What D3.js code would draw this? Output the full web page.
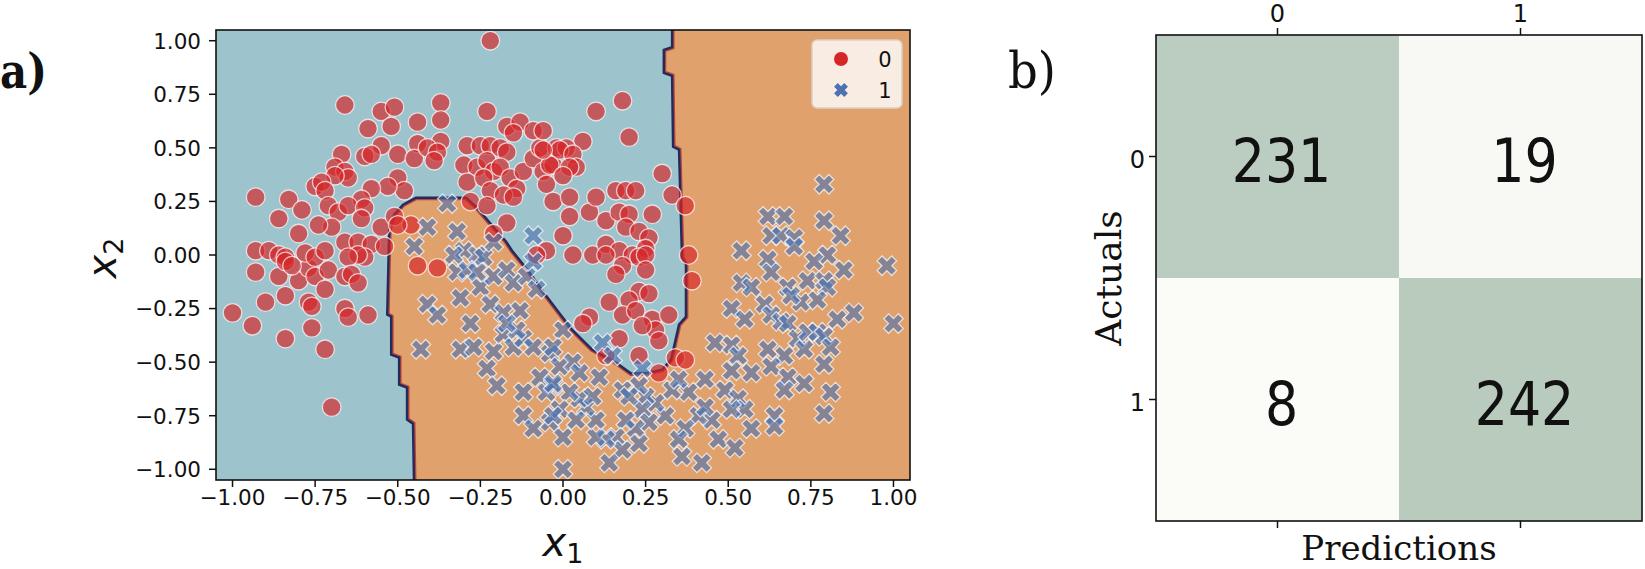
<!DOCTYPE html>
<html><head><meta charset="utf-8">
<script src="https://cdn.jsdelivr.net/npm/d3@7"></script>
<style>body{margin:0;background:#fff}svg{display:block}</style>
</head><body>
<svg id="c" width="1645" height="569"></svg>
<script>
// ---------- data ----------
const class0X = [-0.22,-0.66,-0.55,-0.51,-0.37,-0.23,-0.37,-0.44,-0.59,-0.52,-0.37,-0.44,-0.55,-0.67,-0.60,-0.58,-0.50,-0.45,-0.41,-0.38,-0.39,-0.69,-0.66,-0.65,-0.69,-0.50,-0.48,-0.53,-0.58,-0.61,-0.93,-0.83,-0.79,-0.86,-0.80,-0.93,-0.75,-0.73,-0.72,-0.71,-0.68,-0.70,-0.74,-0.65,-0.60,-0.61,-0.55,-0.51,-0.46,-0.50,-0.66,-0.62,-0.58,-0.54,-0.60,-0.62,-0.65,-0.89,-0.86,-0.84,
 -0.17,-0.13,-0.09,-0.15,-0.29,-0.25,-0.22,-0.19,-0.17,-0.30,-0.26,-0.23,-0.21,-0.19,-0.16,-0.14,-0.12,-0.09,-0.07,-0.06,-0.03,-0.02,-0.29,-0.24,-0.22,-0.18,-0.15,-0.05,-0.03,-0.28,-0.23,-0.17,-0.21,-0.05,-0.08,
 0.18,0.10,0.20,0.06,0.01,-0.01,0.03,0.04,0.02,-0.04,-0.06,-0.06,0.00,0.30,0.33,0.37,0.02,0.02,0.08,0.10,0.13,0.16,0.19,0.22,0.17,0.20,0.19,0.23,0.26,0.27,0.00,0.03,0.09,0.13,0.17,0.21,0.25,0.23,0.38,
 -0.93,-0.86,-0.80,-0.77,-0.75,-0.71,-0.66,-0.64,-0.62,-0.72,-0.84,-0.90,-0.77,-0.76,-0.66,-0.65,-0.59,-1.00,-0.94,-0.84,-0.76,-0.72,-0.70,-0.84,-0.82,-0.78,-0.75,-0.72,-0.44,-0.38,
 0.13,0.25,0.18,0.16,0.25,0.39,0.23,0.26,0.20,0.14,0.08,0.18,0.22,0.27,0.32,0.28,0.24,0.17,0.29,0.13,0.23,0.34,0.37,0.29,0.06];
const class0Y = [1.00,0.70,0.67,0.69,0.71,0.67,0.63,0.62,0.59,0.60,0.53,0.52,0.51,0.47,0.46,0.47,0.47,0.45,0.50,0.48,0.44,0.41,0.39,0.36,0.37,0.36,0.30,0.32,0.31,0.26,0.27,0.26,0.21,0.17,0.10,0.02,0.32,0.34,0.30,0.23,0.20,0.13,0.14,0.23,0.22,0.17,0.13,0.18,0.14,0.14,0.06,0.06,0.05,0.04,-0.01,0.00,-0.01,0.02,0.00,-0.01,
 0.60,0.62,0.58,0.57,0.51,0.51,0.51,0.50,0.48,0.42,0.41,0.44,0.39,0.41,0.36,0.31,0.39,0.45,0.50,0.39,0.42,0.50,0.34,0.36,0.30,0.28,0.27,0.33,0.25,0.25,0.23,0.15,0.10,0.02,0.00,
 0.72,0.67,0.55,0.53,0.50,0.49,0.47,0.41,0.41,0.42,0.49,0.58,0.37,0.38,0.28,0.23,0.27,0.18,0.20,0.27,0.16,0.30,0.30,0.30,0.20,0.19,0.13,0.11,0.08,0.19,0.09,0.00,0.00,0.05,0.02,0.00,0.03,-0.01,0.00,
 -0.08,-0.10,-0.12,-0.06,-0.10,-0.07,-0.10,-0.09,-0.13,-0.16,-0.19,-0.22,-0.22,-0.24,-0.25,-0.29,-0.28,-0.27,-0.33,-0.39,-0.34,-0.44,-0.71,-0.03,-0.05,0.01,-0.01,0.02,-0.05,-0.06,
 0.00,0.00,-0.05,-0.09,-0.07,-0.12,-0.17,-0.18,-0.21,-0.22,-0.29,-0.28,-0.26,-0.30,-0.28,-0.35,-0.33,-0.39,-0.40,-0.47,-0.47,-0.48,-0.49,-0.55,-0.32];

const class1X = [-0.35,-0.41,-0.32,-0.45,-0.09,-0.30,-0.26,-0.24,-0.21,
 0.79,0.62,0.67,0.79,0.84,0.63,0.66,0.70,0.70,0.54,0.62,0.80,0.76,0.98,
 -0.43,-0.41,-0.38,-0.31,-0.28,-0.25,-0.22,-0.18,-0.13,-0.21,-0.17,-0.15,-0.11,-0.31,-0.27,-0.21,-0.18,-0.15,-0.12,-0.09,-0.08,-0.04,-0.23,-0.20,-0.12,-0.07,-0.03,-0.12,-0.09,-0.04,-0.32,-0.29,-0.26,-0.33,-0.09,-0.14,-0.17,
 0.85,0.63,0.54,0.57,0.68,0.74,0.79,0.80,0.51,0.55,0.61,0.63,0.66,0.68,0.72,0.77,0.83,0.88,1.00,0.69,0.71,0.74,0.77,0.79,0.81,0.62,0.67,0.73,0.79,0.46,0.51,0.53,0.51,0.57,0.63,0.68,0.73,0.67,0.81,0.79,0.64,0.64,0.57,0.47,0.52,0.45,0.41,0.38,0.33,0.35,0.43,0.49,0.53,0.55,0.51,0.43,0.37,0.35,0.36,0.42,0.31,0.28,0.25,0.23,0.24,0.26,0.22,0.19,0.16,0.18,0.14,0.13,0.10,0.10,0.07,0.05,0.02,-0.01,0.00,0.04,-0.03,-0.05,-0.03,-0.01,0.03,0.05,0.11,0.09,0.00,-0.03,0.12,0.15,0.18,0.20,0.00,0.24,0.23];
const class1Y = [0.24,0.13,0.11,0.04,0.09,0.02,0.00,-0.01,0.06,
 0.33,0.18,0.18,0.16,0.09,0.09,0.09,0.08,0.04,0.02,-0.02,0.00,-0.03,-0.05,
 -0.44,-0.23,-0.28,-0.20,-0.32,-0.15,-0.23,-0.27,-0.26,-0.10,-0.07,-0.13,-0.10,-0.44,-0.43,-0.45,-0.37,-0.43,-0.39,-0.43,-0.16,-0.46,-0.53,-0.61,-0.64,-0.57,-0.61,-0.75,-0.81,-0.78,-0.08,-0.07,-0.08,0.00,-0.03,-0.35,-0.32,
 -0.07,-0.08,-0.13,-0.15,-0.15,-0.12,-0.12,-0.15,-0.25,-0.30,-0.23,-0.28,-0.31,-0.32,-0.22,-0.21,-0.30,-0.27,-0.32,-0.19,-0.39,-0.36,-0.36,-0.38,-0.43,-0.44,-0.47,-0.44,-0.51,-0.41,-0.42,-0.47,-0.54,-0.55,-0.52,-0.57,-0.60,-0.63,-0.64,-0.74,-0.75,-0.80,-0.81,-0.86,-0.90,-0.77,-0.75,-0.64,-0.63,-0.58,-0.58,-0.63,-0.67,-0.72,-0.72,-0.71,-0.81,-0.86,-0.94,-0.97,-0.75,-0.69,-0.66,-0.61,-0.72,-0.78,-0.81,-0.77,-0.85,-0.91,-0.97,-0.86,-0.85,-0.77,-0.71,-0.67,-0.64,-0.72,-0.85,-0.77,-0.75,-0.64,-0.60,-0.52,-0.50,-0.55,-0.57,-0.66,-0.35,-0.43,-0.41,-0.47,-0.63,-0.66,-1.00,-0.53,-0.88];

// decision boundary (class 1 region lies to its right / below)
const boundaryX = [0.33,0.33,0.305,0.305,0.33,0.333,0.351,0.36,0.372,0.372,0.351,0.327,0.30,0.26,0.206,0.16,0.088,0.027,-0.012,-0.051,-0.103,-0.154,-0.172,-0.224,-0.263,-0.293,-0.445,-0.484,-0.511,-0.526,-0.532,-0.52,-0.52,-0.496,-0.496,-0.472,-0.472,-0.454,-0.451];
const boundaryY = [1.05,0.97,0.957,0.85,0.836,0.505,0.491,-0.013,-0.045,-0.288,-0.325,-0.488,-0.535,-0.549,-0.553,-0.502,-0.441,-0.348,-0.269,-0.19,-0.078,0.02,0.062,0.155,0.225,0.267,0.267,0.235,0.188,0.118,-0.278,-0.288,-0.465,-0.479,-0.605,-0.619,-0.768,-0.787,-1.05];

const axisTicks = [-1.00,-0.75,-0.50,-0.25,0.00,0.25,0.50,0.75,1.00];
const legendLabels = ["0","1"];

const cmActual = ["0","1"];
const cmPredicted = ["0","1"];
const cmValues = [[231,19],[8,242]];

// ---------- drawing ----------
const svg = d3.select("#c");
svg.append("rect").attr("width",1645).attr("height",569).attr("fill","#fff");
const defs = svg.append("defs");

const x = d3.scaleLinear().domain([-1.05,1.05]).range([216,910]);
const y = d3.scaleLinear().domain([-1.05,1.05]).range([480,30]);
const fmt = d3.format(".2f");

defs.append("clipPath").attr("id","plotClip").append("rect")
  .attr("x",216).attr("y",30).attr("width",694).attr("height",450);

const boundary = boundaryX.map((v,i)=>[v,boundaryY[i]]);
const orangePoly = boundary.concat([[1.05,-1.05],[1.05,1.05]]);
const line = d3.line().x(d=>x(d[0])).y(d=>y(d[1]));
defs.append("clipPath").attr("id","orangeClip").append("path").attr("d",line(orangePoly)+"Z");

const plot = svg.append("g").attr("clip-path","url(#plotClip)");
plot.append("rect").attr("x",216).attr("y",30).attr("width",694).attr("height",450).attr("fill","#9dc3cd");
plot.append("path").attr("d",line(orangePoly)+"Z").attr("fill","#e0a16c");
plot.append("path").attr("d",line(boundary)).attr("fill","none")
  .attr("stroke","#b8453c").attr("stroke-width",5).attr("clip-path","url(#orangeClip)");
plot.append("path").attr("d",line(boundary)).attr("fill","none")
  .attr("stroke","#232a5c").attr("stroke-width",2.4).attr("stroke-linejoin","miter");

function crossPath(L,w){
  const pts=[[-w,-L],[w,-L],[w,-w],[L,-w],[L,w],[w,w],[w,L],[-w,L],[-w,w],[-L,w],[-L,-w],[-w,-w]];
  const s=Math.SQRT1_2;
  return "M"+pts.map(p=>[((p[0]-p[1])*s).toFixed(2),((p[0]+p[1])*s).toFixed(2)].join(",")).join("L")+"Z";
}

const pts0 = class0X.map((v,i)=>({x:v,y:class0Y[i]}));
const pts1 = class1X.map((v,i)=>({x:v,y:class1Y[i]}));

plot.append("g").selectAll("circle").data(pts0).join("circle")
  .attr("cx",d=>x(d.x)).attr("cy",d=>y(d.y)).attr("r",9.3)
  .attr("fill","#d62728").attr("fill-opacity",0.68)
  .attr("stroke","#ffffff").attr("stroke-opacity",0.7).attr("stroke-width",1.3);

const cp = crossPath(10.3,3.5);
plot.append("g").selectAll("path").data(pts1).join("path")
  .attr("d",cp).attr("transform",d=>`translate(${x(d.x)},${y(d.y)})`)
  .attr("fill","#4c72b0").attr("fill-opacity",0.62)
  .attr("stroke","#ffffff").attr("stroke-opacity",0.7).attr("stroke-width",1.3);

// frame
svg.append("rect").attr("x",216).attr("y",30).attr("width",694).attr("height",450)
  .attr("fill","none").attr("stroke","#111").attr("stroke-width",1.6);

// x axis
const xa = svg.append("g");
axisTicks.forEach(t=>{
  xa.append("line").attr("x1",x(t)).attr("x2",x(t)).attr("y1",480).attr("y2",487).attr("stroke","#111").attr("stroke-width",1.5);
  xa.append("text").attr("x",x(t)).attr("y",505).attr("text-anchor","middle")
    .attr("font-family","DejaVu Sans").attr("font-size",21.5).attr("fill","#111").text(fmt(t));
});
// y axis
const ya = svg.append("g");
axisTicks.forEach(t=>{
  ya.append("line").attr("x1",209).attr("x2",216).attr("y1",y(t)).attr("y2",y(t)).attr("stroke","#111").attr("stroke-width",1.5);
  ya.append("text").attr("x",201).attr("y",y(t)+7.8).attr("text-anchor","end")
    .attr("font-family","DejaVu Sans").attr("font-size",21.5).attr("fill","#111").text(fmt(t));
});

// axis labels
const xl = svg.append("text").attr("x",563).attr("y",556).attr("text-anchor","middle")
  .attr("font-family","DejaVu Sans").attr("fill","#111");
xl.append("tspan").attr("font-size",40).attr("font-style","italic").text("x");
xl.append("tspan").attr("font-size",27).attr("dy",7).text("1");

const yl = svg.append("text").attr("transform","translate(116,258) rotate(-90)").attr("text-anchor","middle")
  .attr("font-family","DejaVu Sans").attr("fill","#111");
yl.append("tspan").attr("font-size",40).attr("font-style","italic").text("x");
yl.append("tspan").attr("font-size",27).attr("dy",7).text("2");

// legend
const lg = svg.append("g");
lg.append("rect").attr("x",812).attr("y",40).attr("width",90).attr("height",68).attr("rx",5)
  .attr("fill","#f9ede3").attr("stroke","#d9d0c8").attr("stroke-width",1.5);
lg.append("circle").attr("cx",841).attr("cy",59).attr("r",7).attr("fill","#d62728");
lg.append("path").attr("d",crossPath(7.2,2.6)).attr("transform","translate(841,90)").attr("fill","#4c72b0");
legendLabels.forEach((l,i)=>{
  lg.append("text").attr("x",885).attr("y",[59,90][i]+7.5).attr("text-anchor","middle")
    .attr("font-family","DejaVu Sans").attr("font-size",21).attr("fill","#111").text(l);
});

// panel labels
svg.append("text").attr("x",0).attr("y",88).attr("font-family","DejaVu Serif").attr("font-weight","bold")
  .attr("font-size",48).attr("textLength",47).attr("lengthAdjust","spacingAndGlyphs").attr("fill","#111").text("a)");
svg.append("text").attr("x",1008).attr("y",88).attr("font-family","DejaVu Serif")
  .attr("font-size",50).attr("textLength",48).attr("lengthAdjust","spacingAndGlyphs").attr("fill","#111").text("b)");

// ---------- confusion matrix ----------
const cx = d3.scaleBand().domain(cmPredicted).range([1156,1642]);
const cy = d3.scaleBand().domain(cmActual).range([35,521]);
const col = d3.scaleLinear().domain([8,242]).range(["#fbfbf8","#b8cbbd"]);
const cm = svg.append("g");
cmActual.forEach((a,i)=>cmPredicted.forEach((p,j)=>{
  const v = cmValues[i][j];
  cm.append("rect").attr("x",cx(p)).attr("y",cy(a)).attr("width",cx.bandwidth()).attr("height",cy.bandwidth()).attr("fill",col(v));
  cm.append("text").attr("transform",`translate(${cx(p)+cx.bandwidth()/2+4},${cy(a)+cy.bandwidth()/2+25}) scale(0.87,1)`)
    .attr("text-anchor","middle").attr("font-family","DejaVu Sans").attr("font-size",60).attr("fill","#111").text(v);
}));
cm.append("rect").attr("x",1156).attr("y",35).attr("width",486).attr("height",486)
  .attr("fill","none").attr("stroke","#111").attr("stroke-width",1.6);
cmPredicted.forEach(p=>{
  const xc = cx(p)+cx.bandwidth()/2;
  cm.append("line").attr("x1",xc).attr("x2",xc).attr("y1",35).attr("y2",28).attr("stroke","#111").attr("stroke-width",1.5);
  cm.append("line").attr("x1",xc).attr("x2",xc).attr("y1",521).attr("y2",528).attr("stroke","#111").attr("stroke-width",1.5);
  cm.append("text").attr("x",xc).attr("y",22).attr("text-anchor","middle")
    .attr("font-family","DejaVu Sans").attr("font-size",24).attr("fill","#111").text(p);
});
cmActual.forEach(a=>{
  const yc = cy(a)+cy.bandwidth()/2;
  cm.append("line").attr("x1",1149).attr("x2",1156).attr("y1",yc).attr("y2",yc).attr("stroke","#111").attr("stroke-width",1.5);
  cm.append("text").attr("x",1145).attr("y",yc+11).attr("text-anchor","end")
    .attr("font-family","DejaVu Sans").attr("font-size",24).attr("fill","#111").text(a);
});
svg.append("text").attr("x",1399).attr("y",560).attr("text-anchor","middle")
  .attr("font-family","DejaVu Serif").attr("font-size",34).attr("fill","#111").text("Predictions");
svg.append("text").attr("transform","translate(1121,278) rotate(-90)").attr("text-anchor","middle")
  .attr("font-family","DejaVu Serif").attr("font-size",36).attr("fill","#111").text("Actuals");
</script>
</body></html>
